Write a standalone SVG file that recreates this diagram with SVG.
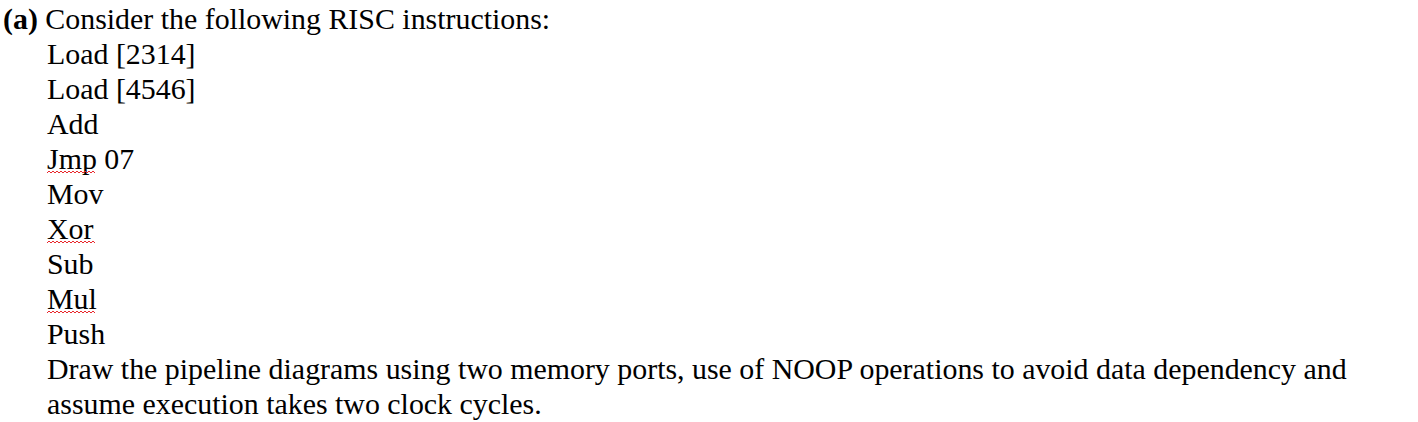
<svg xmlns="http://www.w3.org/2000/svg" width="1418" height="422" viewBox="0 0 1418 422">
<style>
text{font-family:"Liberation Serif","Times New Roman",serif;font-size:29.9px;fill:#000}
.sq{fill:none;stroke:#e8262b;stroke-width:1}
</style>
<rect width="1418" height="422" fill="#fff"/>
<g id="text">
<text x="3" y="29"><tspan font-weight="bold">(a)</tspan> Consider the following RISC instructions:</text>
<text x="47" y="64">Load [2314]</text>
<text x="47" y="99">Load [4546]</text>
<text x="47" y="134">Add</text>
<text x="47" y="169">Jmp 07</text>
<text x="47" y="204">Mov</text>
<text x="47" y="239">Xor</text>
<text x="47" y="274">Sub</text>
<text x="47" y="309">Mul</text>
<text x="47" y="344">Push</text>
<text x="47" y="379">Draw the pipeline diagrams using two memory ports, use of NOOP operations to avoid data dependency and</text>
<text x="47" y="414">assume execution takes two clock cycles.</text>
</g>
<g id="squiggles">
<path class="sq" d="M47 173 l2 -2 l2 2 l2 -2 l2 2 l2 -2 l2 2 l2 -2 l2 2 l2 -2 l2 2 l2 -2 l2 2 l2 -2 l2 2 l2 -2 l2 2 l2 -2 l2 2 l2 -2 l2 2 l2 -2 l2 2 l2 -2 l2 2"/>
<path class="sq" d="M47 243 l2 -2 l2 2 l2 -2 l2 2 l2 -2 l2 2 l2 -2 l2 2 l2 -2 l2 2 l2 -2 l2 2 l2 -2 l2 2 l2 -2 l2 2 l2 -2 l2 2 l2 -2 l2 2 l2 -2 l2 2 l2 -2 l2 2"/>
<path class="sq" d="M47 313 l2 -2 l2 2 l2 -2 l2 2 l2 -2 l2 2 l2 -2 l2 2 l2 -2 l2 2 l2 -2 l2 2 l2 -2 l2 2 l2 -2 l2 2 l2 -2 l2 2 l2 -2 l2 2 l2 -2 l2 2 l2 -2 l2 2"/>
</g>
</svg>
